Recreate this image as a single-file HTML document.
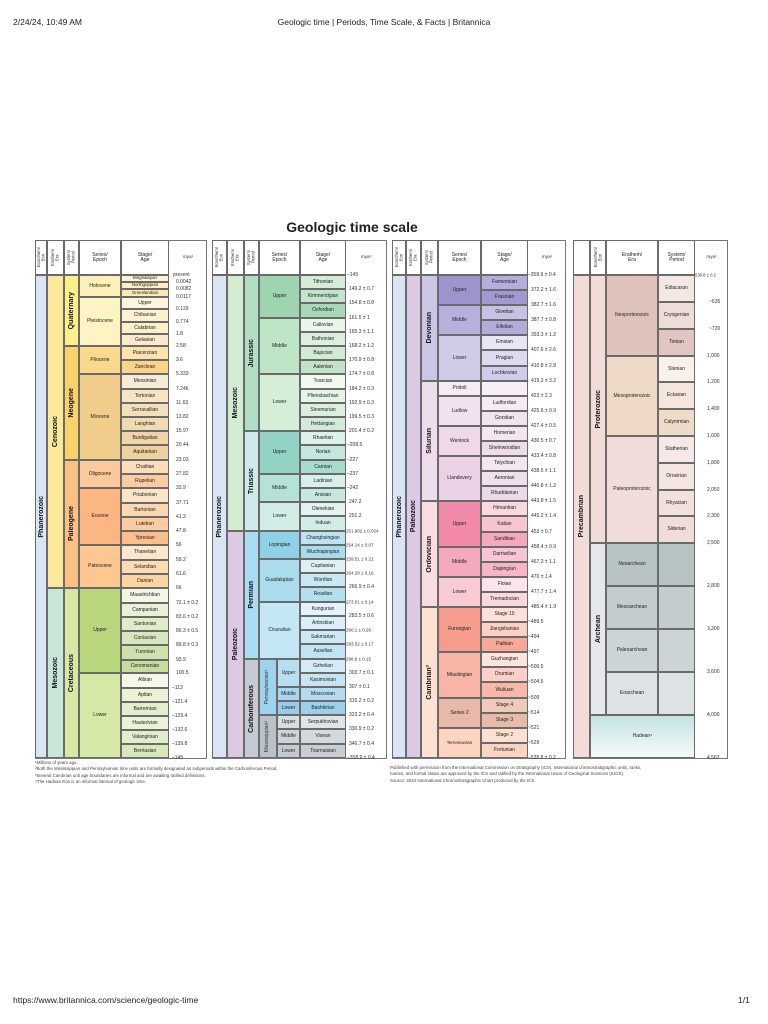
<!DOCTYPE html>
<html><head><meta charset="utf-8"><style>
body{margin:0;width:768px;height:1024px;background:#fff;position:relative;font-family:"Liberation Sans",sans-serif;color:#222;overflow:hidden}
.c{position:absolute;box-sizing:border-box;border:0.6px solid #6a6a6a;display:flex;align-items:center;justify-content:center;font-size:5px;line-height:1;text-align:center;white-space:nowrap;overflow:hidden}
.v span{writing-mode:vertical-rl;transform:rotate(180deg);font-weight:bold;font-size:7px;color:#111}
.vs span{writing-mode:vertical-rl;transform:rotate(180deg);font-size:4.2px;color:#333;line-height:1.05}
.m{position:absolute;font-size:5px;transform:translateY(-50%);white-space:nowrap;color:#333}
.h{position:absolute;font-size:4.6px;color:#333;text-align:center;line-height:1.2}
.t{position:absolute;font-size:8.5px;color:#222}
.fn{position:absolute;font-size:4.4px;color:#444;line-height:1.45}
.box{position:absolute;box-sizing:border-box;border:0.8px solid #777}
</style></head><body>
<div class="t" style="left:13px;top:17px">2/24/24, 10:49 AM</div>
<div class="t" style="left:0;width:768px;top:17px;text-align:center">Geologic time | Periods, Time Scale, &amp; Facts | Britannica</div>
<div class="t" style="left:13px;top:995px">https://www.britannica.com/science/geologic-time</div>
<div class="t" style="left:738px;top:995px">1/1</div>
<div style="position:absolute;left:0;width:704px;top:219px;text-align:center;font-size:14px;font-weight:bold;color:#222">Geologic time scale</div>

<!-- PANEL 1 -->
<div class="box" style="left:35px;top:240px;width:172px;height:519px"></div>
<div class="c vs" style="left:35px;top:240px;width:12px;height:35px"><span>Eonothem/<br>Eon</span></div>
<div class="c vs" style="left:47px;top:240px;width:17px;height:35px"><span>Erathem/<br>Era</span></div>
<div class="c vs" style="left:64px;top:240px;width:15px;height:35px"><span>System/<br>Period</span></div>
<div class="c" style="left:79px;top:240px;width:42px;height:35px">Series/<br>Epoch</div>
<div class="c" style="left:121px;top:240px;width:48px;height:35px">Stage/<br>Age</div>
<div class="h" style="left:169px;top:254px;width:38px">mya¹</div>
<div class="c v" style="left:35px;top:275px;width:12px;height:483px;background:#d9e5f5"><span>Phanerozoic</span></div>
<div class="c v" style="left:47px;top:275px;width:17px;height:313px;background:#fbe89a"><span>Cenozoic</span></div>
<div class="c v" style="left:47px;top:588px;width:17px;height:170px;background:#c7e7d6"><span>Mesozoic</span></div>
<div class="c v" style="left:64px;top:275px;width:15px;height:71px;background:#fdf08a"><span>Quaternary</span></div>
<div class="c v" style="left:64px;top:346px;width:15px;height:114px;background:#fbd26a"><span>Neogene</span></div>
<div class="c v" style="left:64px;top:460px;width:15px;height:128px;background:#fbc184"><span>Paleogene</span></div>
<div class="c v" style="left:64px;top:588px;width:15px;height:170px;background:#d6e8a6"><span>Cretaceous</span></div>
<div class="c" style="left:79px;top:275px;width:42px;height:22px;background:#fdf1b8">Holocene</div>
<div class="c" style="left:79px;top:297px;width:42px;height:49px;background:#fef3c2">Pleistocene</div>
<div class="c" style="left:79px;top:346px;width:42px;height:28px;background:#fbd88c">Pliocene</div>
<div class="c" style="left:79px;top:374px;width:42px;height:86px;background:#f1cd8c">Miocene</div>
<div class="c" style="left:79px;top:460px;width:42px;height:28px;background:#fcc99a">Oligocene</div>
<div class="c" style="left:79px;top:488px;width:42px;height:57px;background:#fbb681">Eocene</div>
<div class="c" style="left:79px;top:545px;width:42px;height:43px;background:#fcc890">Paleocene</div>
<div class="c" style="left:79px;top:588px;width:42px;height:85px;background:#b8d67c">Upper</div>
<div class="c" style="left:79px;top:673px;width:42px;height:85px;background:#d6e8a6">Lower</div>
<div class="c" style="left:121px;top:275px;width:48px;height:7px;background:#fdf2d2;font-size:4.4px">Meghalayan</div>
<div class="c" style="left:121px;top:282px;width:48px;height:7px;background:#fdeec4;font-size:4.4px">Northgrippian</div>
<div class="c" style="left:121px;top:289px;width:48px;height:8px;background:#fde9b4;font-size:4.4px">Greenlandian</div>
<div class="c" style="left:121px;top:297px;width:48px;height:12px;background:#fdf6dc">Upper</div>
<div class="c" style="left:121px;top:309px;width:48px;height:13px;background:#fef2ce">Chibanian</div>
<div class="c" style="left:121px;top:322px;width:48px;height:12px;background:#feefc6">Calabrian</div>
<div class="c" style="left:121px;top:334px;width:48px;height:12px;background:#fce8ca">Gelasian</div>
<div class="c" style="left:121px;top:346px;width:48px;height:14px;background:#fce2ac">Piacenzian</div>
<div class="c" style="left:121px;top:360px;width:48px;height:14px;background:#fbd48c">Zanclean</div>
<div class="c" style="left:121px;top:374px;width:48px;height:15px;background:#f8ebd4">Messinian</div>
<div class="c" style="left:121px;top:389px;width:48px;height:14px;background:#f6e4c4">Tortonian</div>
<div class="c" style="left:121px;top:403px;width:48px;height:14px;background:#f4dfbc">Serravallian</div>
<div class="c" style="left:121px;top:417px;width:48px;height:14px;background:#f2dab2">Langhian</div>
<div class="c" style="left:121px;top:431px;width:48px;height:14px;background:#f0d4a8">Burdigalian</div>
<div class="c" style="left:121px;top:445px;width:48px;height:15px;background:#eecf9e">Aquitanian</div>
<div class="c" style="left:121px;top:460px;width:48px;height:14px;background:#fddcba">Chattian</div>
<div class="c" style="left:121px;top:474px;width:48px;height:14px;background:#fccca0">Rupelian</div>
<div class="c" style="left:121px;top:488px;width:48px;height:15px;background:#fde4c8">Priabonian</div>
<div class="c" style="left:121px;top:503px;width:48px;height:14px;background:#fcd8b0">Bartonian</div>
<div class="c" style="left:121px;top:517px;width:48px;height:14px;background:#fccca0">Lutetian</div>
<div class="c" style="left:121px;top:531px;width:48px;height:14px;background:#fbbf8c">Ypresian</div>
<div class="c" style="left:121px;top:545px;width:48px;height:15px;background:#fde6cc">Thanetian</div>
<div class="c" style="left:121px;top:560px;width:48px;height:14px;background:#fddbb4">Selandian</div>
<div class="c" style="left:121px;top:574px;width:48px;height:14px;background:#fcd4a0">Danian</div>
<div class="c" style="left:121px;top:588px;width:48px;height:15px;background:#f2f6e4">Maastrichtian</div>
<div class="c" style="left:121px;top:603px;width:48px;height:14px;background:#e8f0d6">Campanian</div>
<div class="c" style="left:121px;top:617px;width:48px;height:14px;background:#e0ecc8">Santonian</div>
<div class="c" style="left:121px;top:631px;width:48px;height:14px;background:#d8e6bc">Coniacian</div>
<div class="c" style="left:121px;top:645px;width:48px;height:15px;background:#cfe2ae">Turonian</div>
<div class="c" style="left:121px;top:660px;width:48px;height:13px;background:#c6dca0">Cenomanian</div>
<div class="c" style="left:121px;top:673px;width:48px;height:15px;background:#f4f8e8">Albian</div>
<div class="c" style="left:121px;top:688px;width:48px;height:14px;background:#eaf2d8">Aptian</div>
<div class="c" style="left:121px;top:702px;width:48px;height:14px;background:#e2eecc">Barremian</div>
<div class="c" style="left:121px;top:716px;width:48px;height:14px;background:#eaf2da">Hauterivian</div>
<div class="c" style="left:121px;top:730px;width:48px;height:14px;background:#e2edcc">Valanginian</div>
<div class="c" style="left:121px;top:744px;width:48px;height:14px;background:#d8e8bc">Berriasian</div>
<div class="m" style="left:173px;top:275px">present</div>
<div class="m" style="left:176px;top:282px">0.0042</div>
<div class="m" style="left:176px;top:289px">0.0082</div>
<div class="m" style="left:176px;top:297px">0.0117</div>
<div class="m" style="left:176px;top:309px">0.129</div>
<div class="m" style="left:176px;top:322px">0.774</div>
<div class="m" style="left:176px;top:334px">1.8</div>
<div class="m" style="left:176px;top:346px">2.58</div>
<div class="m" style="left:176px;top:360px">3.6</div>
<div class="m" style="left:176px;top:374px">5.333</div>
<div class="m" style="left:176px;top:389px">7.246</div>
<div class="m" style="left:176px;top:403px">11.63</div>
<div class="m" style="left:176px;top:417px">13.82</div>
<div class="m" style="left:176px;top:431px">15.97</div>
<div class="m" style="left:176px;top:445px">20.44</div>
<div class="m" style="left:176px;top:460px">23.03</div>
<div class="m" style="left:176px;top:474px">27.82</div>
<div class="m" style="left:176px;top:488px">33.9</div>
<div class="m" style="left:176px;top:503px">37.71</div>
<div class="m" style="left:176px;top:517px">41.2</div>
<div class="m" style="left:176px;top:531px">47.8</div>
<div class="m" style="left:176px;top:545px">56</div>
<div class="m" style="left:176px;top:560px">59.2</div>
<div class="m" style="left:176px;top:574px">61.6</div>
<div class="m" style="left:176px;top:588px">66</div>
<div class="m" style="left:176px;top:603px">72.1 ± 0.2</div>
<div class="m" style="left:176px;top:617px">83.6 ± 0.2</div>
<div class="m" style="left:176px;top:631px">86.3 ± 0.5</div>
<div class="m" style="left:176px;top:645px">89.8 ± 0.3</div>
<div class="m" style="left:176px;top:660px">93.9</div>
<div class="m" style="left:176px;top:673px">100.5</div>
<div class="m" style="left:172px;top:688px">–113</div>
<div class="m" style="left:172px;top:702px">–121.4</div>
<div class="m" style="left:172px;top:716px">–129.4</div>
<div class="m" style="left:172px;top:730px">–132.6</div>
<div class="m" style="left:172px;top:744px">–139.8</div>
<div class="m" style="left:172px;top:758px">–145</div>

<!-- PANEL 2 -->
<div class="box" style="left:212px;top:240px;width:175px;height:519px"></div>
<div class="c vs" style="left:212px;top:240px;width:15px;height:35px"><span>Eonothem/<br>Eon</span></div>
<div class="c vs" style="left:227px;top:240px;width:17px;height:35px"><span>Erathem/<br>Era</span></div>
<div class="c vs" style="left:244px;top:240px;width:15px;height:35px"><span>System/<br>Period</span></div>
<div class="c" style="left:259px;top:240px;width:41px;height:35px">Series/<br>Epoch</div>
<div class="c" style="left:300px;top:240px;width:46px;height:35px">Stage/<br>Age</div>
<div class="h" style="left:346px;top:254px;width:40px">mya¹</div>
<div class="c v" style="left:212px;top:275px;width:15px;height:483px;background:#d9e5f5"><span>Phanerozoic</span></div>
<div class="c v" style="left:227px;top:275px;width:17px;height:256px;background:#d3ecd2"><span>Mesozoic</span></div>
<div class="c v" style="left:227px;top:531px;width:17px;height:227px;background:#dcc9e4"><span>Paleozoic</span></div>
<div class="c v" style="left:244px;top:275px;width:15px;height:156px;background:#b0dfc6"><span>Jurassic</span></div>
<div class="c v" style="left:244px;top:431px;width:15px;height:100px;background:#cfeaea"><span>Triassic</span></div>
<div class="c v" style="left:244px;top:531px;width:15px;height:128px;background:#a8dcf2"><span>Permian</span></div>
<div class="c v" style="left:244px;top:659px;width:15px;height:99px;background:#c6cad2"><span>Carboniferous</span></div>
<div class="c" style="left:259px;top:275px;width:41px;height:43px;background:#9fd4b0">Upper</div>
<div class="c" style="left:259px;top:318px;width:41px;height:56px;background:#bde5c6">Middle</div>
<div class="c" style="left:259px;top:374px;width:41px;height:57px;background:#d4eed8">Lower</div>
<div class="c" style="left:259px;top:431px;width:41px;height:43px;background:#93d3c5">Upper</div>
<div class="c" style="left:259px;top:474px;width:41px;height:28px;background:#b5e2d8">Middle</div>
<div class="c" style="left:259px;top:502px;width:41px;height:29px;background:#d2ece6">Lower</div>
<div class="c" style="left:259px;top:531px;width:41px;height:28px;background:#8fd1e6">Lopingian</div>
<div class="c" style="left:259px;top:559px;width:41px;height:43px;background:#aadcec">Guadalupian</div>
<div class="c" style="left:259px;top:602px;width:41px;height:57px;background:#c4e7f5">Cisuralian</div>
<div class="c vs" style="left:259px;top:659px;width:18px;height:56px;background:#9fd2ec"><span style="font-size:5px">Pennsylvanian²</span></div>
<div class="c vs" style="left:259px;top:715px;width:18px;height:43px;background:#b9c1ca"><span style="font-size:5px">Mississippian²</span></div>
<div class="c" style="left:277px;top:659px;width:23px;height:28px;background:#b8def2">Upper</div>
<div class="c" style="left:277px;top:687px;width:23px;height:14px;background:#a8d6ee">Middle</div>
<div class="c" style="left:277px;top:701px;width:23px;height:14px;background:#98cce8">Lower</div>
<div class="c" style="left:277px;top:715px;width:23px;height:14px;background:#d8dde2">Upper</div>
<div class="c" style="left:277px;top:729px;width:23px;height:15px;background:#cdd3d9">Middle</div>
<div class="c" style="left:277px;top:744px;width:23px;height:14px;background:#c2c9d0">Lower</div>
<div class="c" style="left:300px;top:275px;width:46px;height:14px;background:#d4ecd8">Tithonian</div>
<div class="c" style="left:300px;top:289px;width:46px;height:14px;background:#c4e4cc">Kimmeridgian</div>
<div class="c" style="left:300px;top:303px;width:46px;height:15px;background:#a8d8b6">Oxfordian</div>
<div class="c" style="left:300px;top:318px;width:46px;height:14px;background:#e8f5ea">Callovian</div>
<div class="c" style="left:300px;top:332px;width:46px;height:14px;background:#dcefdf">Bathonian</div>
<div class="c" style="left:300px;top:346px;width:46px;height:14px;background:#d0ead4">Bajocian</div>
<div class="c" style="left:300px;top:360px;width:46px;height:14px;background:#c2e3c8">Aalenian</div>
<div class="c" style="left:300px;top:374px;width:46px;height:15px;background:#f0f8f0">Toarcian</div>
<div class="c" style="left:300px;top:389px;width:46px;height:14px;background:#e6f4e8">Pliensbachian</div>
<div class="c" style="left:300px;top:403px;width:46px;height:14px;background:#dcefde">Sinemurian</div>
<div class="c" style="left:300px;top:417px;width:46px;height:14px;background:#d2eada">Hettangian</div>
<div class="c" style="left:300px;top:431px;width:46px;height:14px;background:#dcf0ec">Rhaetian</div>
<div class="c" style="left:300px;top:445px;width:46px;height:15px;background:#c4e6de">Norian</div>
<div class="c" style="left:300px;top:460px;width:46px;height:14px;background:#a8dacf">Carnian</div>
<div class="c" style="left:300px;top:474px;width:46px;height:14px;background:#d8efea">Ladinian</div>
<div class="c" style="left:300px;top:488px;width:46px;height:14px;background:#c6e8e0">Anisian</div>
<div class="c" style="left:300px;top:502px;width:46px;height:14px;background:#e2f2ee">Olenekian</div>
<div class="c" style="left:300px;top:516px;width:46px;height:15px;background:#d2ece8">Induan</div>
<div class="c" style="left:300px;top:531px;width:46px;height:14px;background:#bde4f0">Changhsingian</div>
<div class="c" style="left:300px;top:545px;width:46px;height:14px;background:#a8dcec">Wuchiapingian</div>
<div class="c" style="left:300px;top:559px;width:46px;height:14px;background:#dcf0f6">Capitanian</div>
<div class="c" style="left:300px;top:573px;width:46px;height:14px;background:#c8e8f2">Wordian</div>
<div class="c" style="left:300px;top:587px;width:46px;height:15px;background:#b4e0ee">Roadian</div>
<div class="c" style="left:300px;top:602px;width:46px;height:14px;background:#e4f3fa">Kungurian</div>
<div class="c" style="left:300px;top:616px;width:46px;height:14px;background:#d8eef8">Artinskian</div>
<div class="c" style="left:300px;top:630px;width:46px;height:14px;background:#cce9f6">Sakmarian</div>
<div class="c" style="left:300px;top:644px;width:46px;height:15px;background:#c0e4f4">Asselian</div>
<div class="c" style="left:300px;top:659px;width:46px;height:14px;background:#d4ebf6">Gzhelian</div>
<div class="c" style="left:300px;top:673px;width:46px;height:14px;background:#c6e4f2">Kasimovian</div>
<div class="c" style="left:300px;top:687px;width:46px;height:14px;background:#b4dcf0">Moscovian</div>
<div class="c" style="left:300px;top:701px;width:46px;height:14px;background:#9ccfea">Bashkirian</div>
<div class="c" style="left:300px;top:715px;width:46px;height:14px;background:#e0e4e8">Serpukhovian</div>
<div class="c" style="left:300px;top:729px;width:46px;height:15px;background:#d4d9de">Visean</div>
<div class="c" style="left:300px;top:744px;width:46px;height:14px;background:#c8ced4">Tournaisian</div>
<div class="m" style="left:347px;top:275px">–145</div>
<div class="m" style="left:349px;top:289px">149.2 ± 0.7</div>
<div class="m" style="left:349px;top:303px">154.8 ± 0.8</div>
<div class="m" style="left:349px;top:318px">161.5 ± 1</div>
<div class="m" style="left:349px;top:332px">165.3 ± 1.1</div>
<div class="m" style="left:349px;top:346px">168.2 ± 1.2</div>
<div class="m" style="left:349px;top:360px">170.9 ± 0.8</div>
<div class="m" style="left:349px;top:374px">174.7 ± 0.8</div>
<div class="m" style="left:349px;top:389px">184.2 ± 0.3</div>
<div class="m" style="left:349px;top:403px">192.9 ± 0.3</div>
<div class="m" style="left:349px;top:417px">199.5 ± 0.3</div>
<div class="m" style="left:349px;top:431px">201.4 ± 0.2</div>
<div class="m" style="left:347px;top:445px">–208.5</div>
<div class="m" style="left:347px;top:460px">–227</div>
<div class="m" style="left:347px;top:474px">–237</div>
<div class="m" style="left:347px;top:488px">–242</div>
<div class="m" style="left:349px;top:502px">247.2</div>
<div class="m" style="left:349px;top:516px">251.2</div>
<div class="m" style="left:346px;top:531px;font-size:4.5px">251.902 ± 0.024</div>
<div class="m" style="left:346px;top:545px;font-size:4.5px">254.14 ± 0.07</div>
<div class="m" style="left:346px;top:559px;font-size:4.5px">259.51 ± 0.21</div>
<div class="m" style="left:346px;top:573px;font-size:4.5px">264.28 ± 0.16</div>
<div class="m" style="left:349px;top:587px">266.9 ± 0.4</div>
<div class="m" style="left:346px;top:602px;font-size:4.5px">273.01 ± 0.14</div>
<div class="m" style="left:349px;top:616px">283.5 ± 0.6</div>
<div class="m" style="left:346px;top:630px;font-size:4.5px">290.1 ± 0.26</div>
<div class="m" style="left:346px;top:644px;font-size:4.5px">293.52 ± 0.17</div>
<div class="m" style="left:346px;top:659px;font-size:4.5px">298.9 ± 0.15</div>
<div class="m" style="left:349px;top:673px">303.7 ± 0.1</div>
<div class="m" style="left:349px;top:687px">307 ± 0.1</div>
<div class="m" style="left:349px;top:701px">315.2 ± 0.2</div>
<div class="m" style="left:349px;top:715px">323.2 ± 0.4</div>
<div class="m" style="left:349px;top:729px">330.9 ± 0.2</div>
<div class="m" style="left:349px;top:744px">346.7 ± 0.4</div>
<div class="m" style="left:347px;top:758px">–358.9 ± 0.4</div>

<!-- PANEL 3 -->
<div class="box" style="left:392px;top:240px;width:174px;height:519px"></div>
<div class="c vs" style="left:392px;top:240px;width:14px;height:35px"><span>Eonothem/<br>Eon</span></div>
<div class="c vs" style="left:406px;top:240px;width:15px;height:35px"><span>Erathem/<br>Era</span></div>
<div class="c vs" style="left:421px;top:240px;width:17px;height:35px"><span>System/<br>Period</span></div>
<div class="c" style="left:438px;top:240px;width:43px;height:35px">Series/<br>Epoch</div>
<div class="c" style="left:481px;top:240px;width:47px;height:35px">Stage/<br>Age</div>
<div class="h" style="left:528px;top:254px;width:38px">mya¹</div>
<div class="c v" style="left:392px;top:275px;width:14px;height:483px;background:#d9e5f5"><span>Phanerozoic</span></div>
<div class="c v" style="left:406px;top:275px;width:15px;height:483px;background:#dcc9e4"><span>Paleozoic</span></div>
<div class="c v" style="left:421px;top:275px;width:17px;height:106px;background:#cbc6e6"><span>Devonian</span></div>
<div class="c v" style="left:421px;top:381px;width:17px;height:120px;background:#efdcec"><span>Silurian</span></div>
<div class="c v" style="left:421px;top:501px;width:17px;height:106px;background:#f8dce0"><span>Ordovician</span></div>
<div class="c v" style="left:421px;top:607px;width:17px;height:151px;background:#fde2d2"><span>Cambrian³</span></div>
<div class="c" style="left:438px;top:275px;width:43px;height:30px;background:#9c94cc">Upper</div>
<div class="c" style="left:438px;top:305px;width:43px;height:30px;background:#b6b0dc">Middle</div>
<div class="c" style="left:438px;top:335px;width:43px;height:46px;background:#d0cce8">Lower</div>
<div class="c" style="left:438px;top:381px;width:43px;height:15px;background:#f6ebf3">Pridoli</div>
<div class="c" style="left:438px;top:396px;width:43px;height:30px;background:#f2e2ef">Ludlow</div>
<div class="c" style="left:438px;top:426px;width:43px;height:30px;background:#eed8ea">Wenlock</div>
<div class="c" style="left:438px;top:456px;width:43px;height:45px;background:#ead2e6">Llandovery</div>
<div class="c" style="left:438px;top:501px;width:43px;height:46px;background:#f08aa8">Upper</div>
<div class="c" style="left:438px;top:547px;width:43px;height:30px;background:#f4a8bc">Middle</div>
<div class="c" style="left:438px;top:577px;width:43px;height:30px;background:#f8cad4">Lower</div>
<div class="c" style="left:438px;top:607px;width:43px;height:45px;background:#f59c8c">Furongian</div>
<div class="c" style="left:438px;top:652px;width:43px;height:46px;background:#f8b4a4">Miaolingian</div>
<div class="c" style="left:438px;top:698px;width:43px;height:30px;background:#e8b8a8">Series 2</div>
<div class="c" style="left:438px;top:728px;width:43px;height:30px;background:#fcd4c0;font-size:4.4px">Terreneuvian</div>
<div class="c" style="left:481px;top:275px;width:47px;height:15px;background:#b4aedc">Famennian</div>
<div class="c" style="left:481px;top:290px;width:47px;height:15px;background:#a09ad0">Frasnian</div>
<div class="c" style="left:481px;top:305px;width:47px;height:15px;background:#c6c2e4">Givetian</div>
<div class="c" style="left:481px;top:320px;width:47px;height:15px;background:#b2acda">Eifelian</div>
<div class="c" style="left:481px;top:335px;width:47px;height:15px;background:#e8e6f4">Emsian</div>
<div class="c" style="left:481px;top:350px;width:47px;height:16px;background:#dcdaee">Pragian</div>
<div class="c" style="left:481px;top:366px;width:47px;height:15px;background:#d0cce8">Lochkovian</div>
<div class="c" style="left:481px;top:381px;width:47px;height:15px;background:#f8eef5"></div>
<div class="c" style="left:481px;top:396px;width:47px;height:15px;background:#f6ebf3">Ludfordian</div>
<div class="c" style="left:481px;top:411px;width:47px;height:15px;background:#f2e4ef">Gorstian</div>
<div class="c" style="left:481px;top:426px;width:47px;height:15px;background:#f4e6f0">Homerian</div>
<div class="c" style="left:481px;top:441px;width:47px;height:15px;background:#eedcea">Sheinwoodian</div>
<div class="c" style="left:481px;top:456px;width:47px;height:15px;background:#f4e6f0">Telychian</div>
<div class="c" style="left:481px;top:471px;width:47px;height:15px;background:#f0dfec">Aeronian</div>
<div class="c" style="left:481px;top:486px;width:47px;height:15px;background:#ecd8e8">Rhuddanian</div>
<div class="c" style="left:481px;top:501px;width:47px;height:15px;background:#fad8e0">Hirnantian</div>
<div class="c" style="left:481px;top:516px;width:47px;height:16px;background:#f8c4d0">Katian</div>
<div class="c" style="left:481px;top:532px;width:47px;height:15px;background:#f6a8bc">Sandbian</div>
<div class="c" style="left:481px;top:547px;width:47px;height:15px;background:#f8c6d2">Darriwilian</div>
<div class="c" style="left:481px;top:562px;width:47px;height:15px;background:#f6b6c6">Dapingian</div>
<div class="c" style="left:481px;top:577px;width:47px;height:15px;background:#fce4e8">Floian</div>
<div class="c" style="left:481px;top:592px;width:47px;height:15px;background:#fad8de">Tremadocian</div>
<div class="c" style="left:481px;top:607px;width:47px;height:15px;background:#fde0d8">Stage 10</div>
<div class="c" style="left:481px;top:622px;width:47px;height:15px;background:#fcd0c4">Jiangshanian</div>
<div class="c" style="left:481px;top:637px;width:47px;height:15px;background:#f8a898">Paibian</div>
<div class="c" style="left:481px;top:652px;width:47px;height:15px;background:#fde4dc">Guzhangian</div>
<div class="c" style="left:481px;top:667px;width:47px;height:15px;background:#fcd0c4">Drumian</div>
<div class="c" style="left:481px;top:682px;width:47px;height:16px;background:#f8b8a8">Wuliuan</div>
<div class="c" style="left:481px;top:698px;width:47px;height:15px;background:#f0cab8">Stage 4</div>
<div class="c" style="left:481px;top:713px;width:47px;height:15px;background:#e8baa8">Stage 3</div>
<div class="c" style="left:481px;top:728px;width:47px;height:15px;background:#fde0d0">Stage 2</div>
<div class="c" style="left:481px;top:743px;width:47px;height:15px;background:#fcd4c0">Fortunian</div>
<div class="m" style="left:528px;top:275px">–358.9 ± 0.4</div>
<div class="m" style="left:531px;top:290px">372.2 ± 1.6</div>
<div class="m" style="left:531px;top:305px">382.7 ± 1.6</div>
<div class="m" style="left:531px;top:320px">387.7 ± 0.8</div>
<div class="m" style="left:531px;top:335px">393.3 ± 1.2</div>
<div class="m" style="left:531px;top:350px">407.6 ± 2.6</div>
<div class="m" style="left:531px;top:366px">410.8 ± 2.8</div>
<div class="m" style="left:531px;top:381px">419.2 ± 3.2</div>
<div class="m" style="left:531px;top:396px">423 ± 2.3</div>
<div class="m" style="left:531px;top:411px">425.6 ± 0.9</div>
<div class="m" style="left:531px;top:426px">427.4 ± 0.5</div>
<div class="m" style="left:531px;top:441px">430.5 ± 0.7</div>
<div class="m" style="left:531px;top:456px">433.4 ± 0.8</div>
<div class="m" style="left:531px;top:471px">438.5 ± 1.1</div>
<div class="m" style="left:531px;top:486px">440.8 ± 1.2</div>
<div class="m" style="left:531px;top:501px">443.8 ± 1.5</div>
<div class="m" style="left:531px;top:516px">445.2 ± 1.4</div>
<div class="m" style="left:531px;top:532px">453 ± 0.7</div>
<div class="m" style="left:531px;top:547px">458.4 ± 0.9</div>
<div class="m" style="left:531px;top:562px">467.3 ± 1.1</div>
<div class="m" style="left:531px;top:577px">470 ± 1.4</div>
<div class="m" style="left:531px;top:592px">477.7 ± 1.4</div>
<div class="m" style="left:531px;top:607px">485.4 ± 1.9</div>
<div class="m" style="left:528px;top:622px">~489.5</div>
<div class="m" style="left:528px;top:637px">~494</div>
<div class="m" style="left:528px;top:652px">~497</div>
<div class="m" style="left:528px;top:667px">~500.5</div>
<div class="m" style="left:528px;top:682px">~504.5</div>
<div class="m" style="left:528px;top:698px">~509</div>
<div class="m" style="left:528px;top:713px">~514</div>
<div class="m" style="left:528px;top:728px">~521</div>
<div class="m" style="left:528px;top:743px">~529</div>
<div class="m" style="left:528px;top:758px">–538.8 ± 0.2</div>

<!-- PANEL 4 -->
<div class="box" style="left:573px;top:240px;width:155px;height:519px"></div>
<div class="c vs" style="left:573px;top:240px;width:17px;height:35px"></div>
<div class="c vs" style="left:590px;top:240px;width:16px;height:35px"><span>Eonothem/<br>Eon</span></div>
<div class="c" style="left:606px;top:240px;width:52px;height:35px">Erathem/<br>Era</div>
<div class="c" style="left:658px;top:240px;width:37px;height:35px">System/<br>Period</div>
<div class="h" style="left:695px;top:254px;width:33px">mya¹</div>
<div class="c v" style="left:573px;top:275px;width:17px;height:483px;background:#f2dcd8"><span>Precambrian</span></div>
<div class="c v" style="left:590px;top:275px;width:16px;height:268px;background:#f2dcd8"><span>Proterozoic</span></div>
<div class="c v" style="left:590px;top:543px;width:16px;height:172px;background:#e4e8ec"><span>Archean</span></div>
<div class="c" style="left:606px;top:275px;width:52px;height:81px;background:#dfc3bb">Neoproterozoic</div>
<div class="c" style="left:606px;top:356px;width:52px;height:80px;background:#eed8c6">Mesoproterozoic</div>
<div class="c" style="left:606px;top:436px;width:52px;height:107px;background:#f0dcd8">Paleoproterozoic</div>
<div class="c" style="left:658px;top:275px;width:37px;height:27px;background:#f4e8e4">Ediacaran</div>
<div class="c" style="left:658px;top:302px;width:37px;height:27px;background:#eedcd8">Cryogenian</div>
<div class="c" style="left:658px;top:329px;width:37px;height:27px;background:#e0c6be">Tonian</div>
<div class="c" style="left:658px;top:356px;width:37px;height:26px;background:#f8f0ea">Stenian</div>
<div class="c" style="left:658px;top:382px;width:37px;height:27px;background:#f4e6dc">Ectasian</div>
<div class="c" style="left:658px;top:409px;width:37px;height:27px;background:#eedac8">Calymmian</div>
<div class="c" style="left:658px;top:436px;width:37px;height:27px;background:#f6e8e6">Statherian</div>
<div class="c" style="left:658px;top:463px;width:37px;height:27px;background:#f4e4e2">Orosirian</div>
<div class="c" style="left:658px;top:490px;width:37px;height:26px;background:#f2e0dc">Rhyacian</div>
<div class="c" style="left:658px;top:516px;width:37px;height:27px;background:#f0dcd8">Siderian</div>
<div class="c" style="left:606px;top:543px;width:52px;height:43px;background:#b8c4c4">Neoarchean</div>
<div class="c" style="left:658px;top:543px;width:37px;height:43px;background:#b8c4c4"></div>
<div class="c" style="left:606px;top:586px;width:52px;height:43px;background:#c4cdce">Mesoarchean</div>
<div class="c" style="left:658px;top:586px;width:37px;height:43px;background:#c4cdce"></div>
<div class="c" style="left:606px;top:629px;width:52px;height:43px;background:#ccd4d6">Paleoarchean</div>
<div class="c" style="left:658px;top:629px;width:37px;height:43px;background:#ccd4d6"></div>
<div class="c" style="left:606px;top:672px;width:52px;height:43px;background:#dde2e4">Eoarchean</div>
<div class="c" style="left:658px;top:672px;width:37px;height:43px;background:#dde2e4"></div>
<div class="c" style="left:590px;top:715px;width:105px;height:43px;background:linear-gradient(#c4e2e2,#f6fbfb)">Hadean⁴</div>
<div class="m" style="left:695px;top:275px;font-size:4.2px">538.8 ± 0.2</div>
<div class="m" style="left:709px;top:302px">~635</div>
<div class="m" style="left:709px;top:329px">~720</div>
<div class="m" style="left:707px;top:356px">1,000</div>
<div class="m" style="left:707px;top:382px">1,200</div>
<div class="m" style="left:707px;top:409px">1,400</div>
<div class="m" style="left:707px;top:436px">1,600</div>
<div class="m" style="left:707px;top:463px">1,800</div>
<div class="m" style="left:707px;top:490px">2,050</div>
<div class="m" style="left:707px;top:516px">2,300</div>
<div class="m" style="left:707px;top:543px">2,500</div>
<div class="m" style="left:707px;top:586px">2,800</div>
<div class="m" style="left:707px;top:629px">3,200</div>
<div class="m" style="left:707px;top:672px">3,600</div>
<div class="m" style="left:707px;top:715px">4,000</div>
<div class="m" style="left:707px;top:758px">4,567</div>

<div class="fn" style="left:35px;top:760px">¹Millions of years ago.<br>²Both the Mississippian and Pennsylvanian time units are formally designated as subperiods within the Carboniferous Period.<br>³Several Cambrian unit age boundaries are informal and are awaiting ratified definitions.<br>⁴The Hadean Eon is an informal interval of geologic time.</div>
<div class="fn" style="left:390px;top:765px">Published with permission from the International Commission on Stratigraphy (ICS). International chronostratigraphic units, ranks,<br>names, and formal status are approved by the ICS and ratified by the International Union of Geological Sciences (IUGS).<br>Source: 2023 International Chronostratigraphic Chart produced by the ICS.</div>
</body></html>
